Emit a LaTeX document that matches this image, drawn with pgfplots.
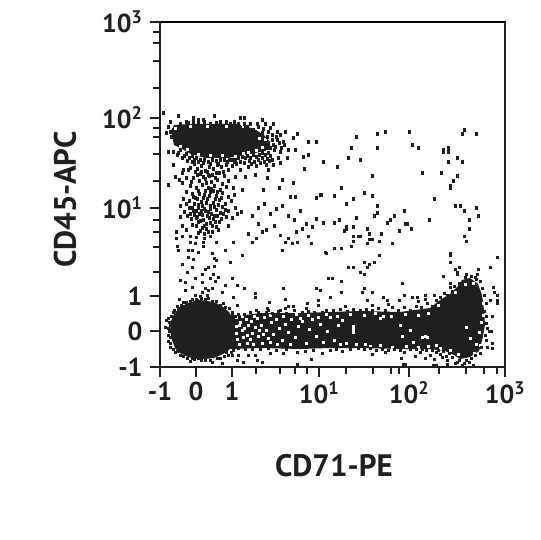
\documentclass[border=0pt]{standalone}
\usepackage{pgfplots}
\usepackage{fontspec}
\setmainfont{PT Sans}
\pgfplotsset{compat=1.18}
\begin{document}
\begin{tikzpicture}[x=1pt,y=1pt]
\path[use as bounding box] (0,0) rectangle (540,540);
\begin{axis}[
    at={(160pt,173pt)}, anchor=south west,
    scale only axis, width=345pt, height=345pt,
    xmin=160, xmax=505, ymin=22, ymax=367,
    y dir=reverse, clip=false,
    axis line style={line width=1.2pt},
    xtick={160,196,232,319,409,505},
    xticklabels={-1,0,1,10\textsuperscript{1},10\textsuperscript{2},10\textsuperscript{3}},
    minor xtick={256,280,295,307,346,373,391,399,439,466,484,497},
    ytick={22,118,208,296,331,367},
    yticklabels={10\textsuperscript{3},10\textsuperscript{2},10\textsuperscript{1},1,0,-1},
    minor ytick={32,43,61,88,128,137,154,181,220,232,247,272},
    tick align=outside, xtick pos=bottom, ytick pos=left,
    major tick length=10pt, minor tick length=7pt,
    minor tick style={black!88, line width=2pt},
    major tick style={black!88, line width=2pt},
    tick label style={font=\fontsize{26}{26}\selectfont\bfseries, color=black!88},
    xticklabel style={yshift=-1pt},
    yticklabel style={xshift=-4pt},
    xlabel={CD71-PE}, ylabel={CD45-APC},
    label style={font=\fontsize{31}{31}\selectfont\bfseries, color=black!88},
    xlabel style={at={(axis description cs:0.504,-0.285)}, anchor=center},
    ylabel style={at={(axis description cs:-0.275,0.485)}, anchor=center},
]
% dense populations
\addplot[fill=black!88, draw=none] coordinates {
(170,331) (171,321) (174,314) (179,308) (186,304) (194,301) (201,300) (208,301) (216,303) (223,307)
(229,312) (233,319) (235,326) (235,336) (233,345) (229,350) (223,354) (214,358) (205,359) (197,359)
(188,357) (180,353) (175,348) (172,340)};
\addplot[fill=black!88, draw=none] coordinates {
(171,131) (174,125) (190,124) (215,124) (238,124) (251,128) (263,134) (270,142) (270,150) (255,153)
(240,156) (228,158) (205,158) (191,154) (182,149) (174,145)};
\addplot[fill=black!88, draw=none] coordinates {
(228,316) (245,315) (262,313) (300,313) (330,312) (360,311) (400,312) (430,308) (440,300) (450,294)
(458,286) (462,280) (470,278) (478,284) (482,295) (484,310) (485,325) (482,341) (479,351) (470,357)
(460,359) (454,355) (445,351) (430,349) (400,349) (360,348) (330,348) (300,349) (262,348) (228,349)};
% light specks in the populations
\addplot[only marks, mark=square*, mark size=1.2pt, color=white, mark options={draw=none}] coordinates {
(236,317) (236,326) (236,333) (237,339) (240,322) (242,330) (243,337) (246,319) (248,325) (247,343)
(251,321) (252,333) (250,339) (255,327) (257,318) (258,336) (261,325) (262,343) (264,317) (266,330)
(268,338) (271,322) (273,334) (276,319) (279,328) (282,340) (285,324) (288,332) (291,319) (295,337)
(298,326) (302,321) (306,343) (309,329) (312,319) (316,336) (320,324) (323,342) (327,331) (330,317)
(334,340) (338,325) (342,320) (346,343) (353,326) (353,329) (353,332) (356,344) (365,344) (380,318)
(383,316) (400,325) (402,336) (410,330) (413,342) (425,336) (427,337) (422,337) (436,345) (466,327)
(470,338) (476,344) (479,332) (481,322) (239,344) (244,328) (254,316) (259,330) (242,316) (270,342)
(263,334) (277,344) (290,344) (253,344) (239,325) (247,335) (300,318) (318,317) (340,344)
(270,315) (283,316) (296,314) (308,315) (326,314) (337,316) (350,314) (364,315) (375,313) (391,316)
(405,314) (418,315) (428,313) (438,305) (370,346) (380,345) (392,347) (406,346) (418,347) (428,346)
(440,348) (450,350) (458,354) (474,353) (480,345) (483,315) (483,303) (473,283) (465,284) (455,292)
(248,152) (256,150) (262,147) (267,151) (243,153) (235,156) (222,155) (210,155) (198,154) (187,149)
(180,146) (259,138) (265,139) (175,128) (190,126) (207,126) (226,126) (242,126)};
% scattered events
\addplot[only marks, mark=square*, mark size=1.3pt, color=black!88, mark options={draw=none}] coordinates {
(356,137) (377,134) (385,132) (409,132) (351,148) (377,148) (412,145) (418,148) (464,130) (462,134)
(476,134) (448,148) (443,150) (443,152) (448,152) (348,158) (360,160) (323,162) (337,167) (448,162)
(457,158) (462,162) (372,176) (422,173) (441,173) (457,176) (453,181) (450,186) (450,188) (341,188)
(364,193) (321,195) (334,196) (372,196) (353,199) (346,204) (434,199) (377,206) (455,206) (460,206)
(464,211) (476,208) (478,216) (404,211) (377,213) (374,216) (394,216) (390,220) (387,223) (356,218)
(339,220) (334,223) (323,223) (429,220) (469,220) (405,224) (407,224) (346,227) (346,229) (353,227)
(367,229) (411,229) (469,229) (344,231) (369,234) (381,234) (399,231) (353,236) (358,236) (360,236)
(369,239) (372,239) (464,236) (353,241) (379,241) (367,243) (392,243) (466,241) (351,246) (334,248)
(341,248) (325,252) (379,255) (450,253) (450,255) (497,257) (450,262) (374,262) (364,262) (369,264)
(367,267) (348,267) (353,267) (360,272) (364,274) (459,267) (455,269) (457,272) (457,274) (490,267)
(478,269) (443,276) (466,274) (477,274) (475,277) (332,278) (341,281) (402,283) (450,283) (450,287)
(364,288) (362,292) (372,292) (341,292) (493,287) (494,292) (497,295) (497,300) (497,303) (490,300)
(404,295) (425,295) (330,297) (383,297) (387,300) (399,300) (412,297) (367,300) (417,297)
(492,316) (489,331) (491,331) (492,343) (492,348) (487,347) (486,316) (484,311) (486,323) (485,335)
% above the top population
(163,113) (178,116) (214,116) (203,120) (198,120) (193,118) (240,118) (244,118) (262,120) (170,122)
(188,123) (193,122) (198,123) (210,124) (220,122) (180,124) (230,124) (238,124) (250,124) (257,124)
(265,124) (273,124) (240,128) (247,129) (253,130) (263,129) (268,132) (277,132) (285,132) (297,134)
(308,142) (316,142) (293,138) (280,135) (272,135) (267,137) (277,140) (283,142) (273,145) (288,150)
(295,150) (284,145) (280,152) (308,155) (303,157) (323,162) (287,158) (278,158) (280,163) (304,169)
(273,165) (268,170) (267,178) (255,175) (245,177) (240,170) (235,177) (282,180) (293,183) (279,188)
(263,190) (242,190) (233,188) (295,197) (290,197) (320,195) (316,198) (258,127) (270,128) (168,127)
(170,132) (171,137) (166,133) (272,140) (268,143) (274,150) (270,148) (262,133) (255,132) (247,127)
(186,122) (204,122) (216,123) (226,122) (234,122) (244,124) (276,137) (279,143) (275,147) (281,148)
% mottled patch under the top population
(247,156) (250,158) (253,155) (256,157) (259,155) (262,153) (265,155) (268,153) (270,156) (262,158)
(267,159) (269,161) (264,162) (258,160) (254,162) (249,161) (245,158) (242,157) (238,158) (235,160)
(232,160) (229,160) (227,162) (224,160) (220,160) (216,161) (212,160) (208,162) (204,160) (200,160)
(196,158) (192,156) (189,158) (186,154) (240,162) (236,164) (232,166) (226,165) (221,167) (217,165)
(213,169) (209,167) (205,171) (201,166) (197,169) (194,164) (190,168) (272,160) (244,163) (251,164)
(260,163) (266,165) (248,167) (256,166) (234,162) (218,164) (210,164) (203,163) (198,162) (194,160)
(180,150) (178,153) (184,156) (187,161) (192,162) (228,170) (223,172) (216,173) (208,175) (201,172)
% vertical column
(173,152) (168,152) (177,155) (182,158) (173,165) (183,170) (182,173) (175,177) (179,180) (168,185)
(182,183) (195,172) (200,174) (207,172) (212,175) (219,173) (224,176) (193,178) (199,181) (205,179)
(211,182) (217,180) (222,184) (228,181) (190,186) (196,188) (202,185) (208,188) (214,186) (220,190)
(226,187) (186,192) (192,194) (198,191) (204,195) (210,192) (216,196) (222,193) (228,197) (183,199)
(189,201) (195,198) (201,202) (207,199) (213,203) (219,200) (225,204) (231,201) (180,206) (186,204)
(192,208) (198,205) (204,209) (210,206) (216,210) (222,207) (228,211) (184,212) (190,214) (196,211)
(202,215) (208,212) (214,216) (220,213) (226,217) (191,219) (197,217) (203,220) (209,218) (215,222)
(221,219) (192,225) (198,222) (204,226) (210,223) (216,227) (200,231) (206,229) (212,232) (218,230)
(186,230) (182,226) (180,217) (176,232) (176,238) (182,236) (190,236) (196,237) (204,238) (210,236)
(228,226) (232,218) (235,208) (237,214) (234,195) (241,212)
(194,204) (198,208) (202,206) (206,203) (210,209) (214,207) (218,205) (193,211) (199,214) (205,211)
(211,214) (217,216) (196,218) (201,211) (207,216) (213,219) (219,222) (194,215) (200,221) (206,224)
(212,226) (196,226) (202,228) (208,232) (197,199) (203,198) (209,196) (215,199) (221,198) (193,197)
(199,194) (205,191) (211,189) (217,192) (189,208) (187,216) (225,210) (223,214) (204,234) (198,233)
(191,182) (197,175) (203,177) (209,176) (215,178) (186,178) (188,170) (206,183) (213,191)
(177,246) (178,250) (190,242) (195,243) (203,242) (203,246) (216,242) (225,250) (188,250) (192,250)
(198,252) (188,257) (212,253) (214,258) (216,260) (193,259) (182,264) (230,262) (242,255) (252,242)
(233,242) (192,267) (208,267) (205,269) (214,266) (187,272) (202,274) (213,274) (218,277) (180,280)
(185,282) (195,278) (202,282) (210,278) (215,281) (232,278) (185,290) (192,287) (202,292) (205,288)
(208,290) (212,288) (195,295) (222,292) (225,285) (237,285) (244,288) (233,297) (255,293) (255,297)
(179,299) (183,302) (193,303) (237,305) (283,288) (269,302) (285,299) (288,306) (293,306) (307,303)
(316,288) (320,290) (318,300) (318,305) (267,308) (268,310) (280,310) (328,278) (326,253) (282,250)
(311,243) (285,242) (292,243) (297,242) (252,216) (258,208) (264,204) (270,214) (276,209) (282,206)
(288,216) (294,220) (300,211) (306,224) (258,224) (266,230) (274,226) (280,235) (288,238) (296,232)
(302,229) (312,227) (248,234) (256,238) (262,232) (308,236) (316,219)
% fringe of the lower left population
(166,320) (170,325) (165,327) (170,337) (170,347) (173,312) (178,308) (180,355) (187,358) (190,361)
(198,358) (212,362) (222,363) (220,358) (171,316) (169,331) (168,341) (175,352) (194,359) (205,360)
(228,355) (226,352) (184,306) (190,301) (197,300) (205,299) (212,301) (220,305) (225,307)
(168,318) (169,322) (168,328) (168,335) (170,343) (173,349) (177,351) (183,356) (192,358) (201,360)
(210,360) (217,358) (224,356) (231,352) (174,310) (177,306) (181,305) (186,302) (192,299) (201,298)
(208,298) (216,301) (223,303) (229,308) (232,312) (235,316) (200,296) (207,295) (196,299)
% fringe of the band
(232,355) (238,355) (237,360) (248,355) (255,355) (257,360) (243,362) (262,362) (297,364) (311,359)
(305,351) (313,350) (322,353) (283,353) (270,353) (297,352) (233,350) (238,348) (245,349) (252,349)
(260,349) (268,348) (276,350) (286,349) (330,350) (336,349) (342,351) (350,349) (358,348) (364,349)
(370,348) (376,350) (382,349) (388,350) (394,349) (400,350) (404,352) (410,349) (416,349) (422,349)
(420,352) (426,350) (432,350) (438,350) (430,355) (436,352) (443,351) (449,353) (403,364) (405,364)
(433,365) (436,365) (455,363) (459,360) (462,365) (466,360) (473,365) (471,358) (475,355) (480,353)
(442,357) (447,360) (425,358) (415,356) (385,352) (372,354) (447,364) (401,358) (452,357) (457,362)
(464,363) (469,362) (440,354) (446,356) (434,359) (481,347)
(232,314) (238,314) (244,314) (250,312) (258,312) (266,312) (272,313) (278,311) (286,313) (294,310)
(302,312) (308,311) (314,312) (322,312) (326,310) (333,310) (340,309) (347,311) (353,309) (360,310)
(366,309) (372,310) (378,308) (385,310) (392,307) (398,310) (404,307) (410,310) (416,306) (421,307)
(427,303) (432,306) (436,300) (440,297) (444,293) (447,295) (452,291) (454,286) (459,283) (465,277)
(471,276) (476,279) (480,281) (482,288) (484,295) (486,303) (487,328) (486,340) (345,306) (372,305)
(388,304) (418,301) (425,299) (434,295) (306,308) (285,308) (256,310)
};
\draw[line width=2.4pt, black!88] (rel axis cs:0,1) -- (rel axis cs:0,0) -- (rel axis cs:1,0) -- (rel axis cs:1,1);
\end{axis}
\end{tikzpicture}
\end{document}
